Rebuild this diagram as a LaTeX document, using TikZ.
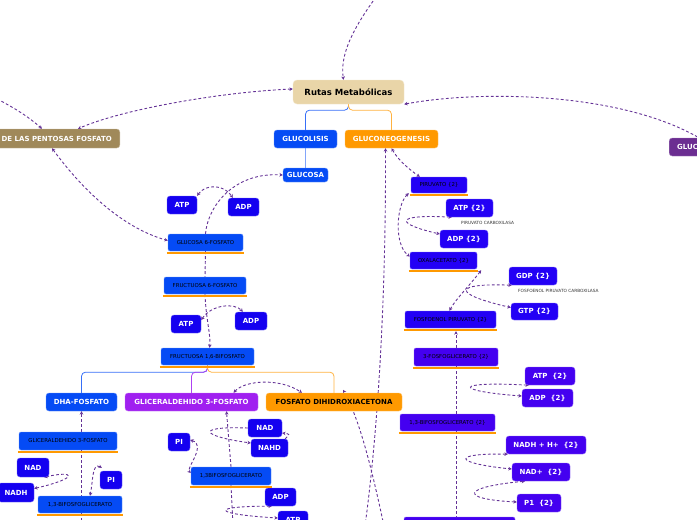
\documentclass[tikz,border=0pt]{standalone}
\usepackage{fontspec}
\setmainfont{DejaVu Sans}
\usetikzlibrary{arrows.meta,backgrounds,calc}

\definecolor{conncol}{RGB}{100,50,150}
\definecolor{rutastan}{RGB}{233,213,168}
\definecolor{glyblue}{RGB}{5,75,245}
\definecolor{neoorange}{RGB}{255,153,0}
\definecolor{pentbrown}{RGB}{160,137,90}
\definecolor{glucpurple}{RGB}{107,45,145}
\definecolor{cofblue}{RGB}{20,0,240}
\definecolor{neoblueA}{RGB}{35,0,245}
\definecolor{neoblueB}{RGB}{68,0,240}
\definecolor{gapurple}{RGB}{160,32,240}

\tikzset{
  topic/.style={rounded corners=3pt, fill=#1, draw=#1!60!white, line width=.4pt,
    text=white, font=\bfseries\fontsize{7}{8}\selectfont, inner sep=0pt, minimum height=18},
  inter/.style={rounded corners=2pt, fill=#1, draw=#1!60!white, line width=.4pt,
    text=black, font=\fontsize{5.4}{6}\selectfont, inner sep=0pt, minimum height=17},
  note/.style={text=black!80, font=\fontsize{4.3}{5}\selectfont, inner sep=0pt},
  conn/.style={draw=conncol, dash pattern=on 2.8pt off 2.2pt, line width=.9pt},
  uline/.style={draw=neoorange, line width=2pt},
  tree/.style={draw=#1, line width=.8pt, rounded corners=4pt}
}

\begin{document}
\begin{tikzpicture}[x=1pt,y=-1pt,>={Stealth[length=3.4pt,width=3.6pt]}]

  \useasboundingbox (0,0) rectangle (697,520);

  % Main topics
  \node[topic=rutastan, text=black, font=\bfseries\fontsize{8.5}{10}\selectfont,
    minimum width=111, minimum height=24, rounded corners=4pt] (rutas) at (348.5,92) {Rutas Metabólicas};
  \node[topic=glyblue, minimum width=63] (glucolisis) at (305.5,139) {GLUCOLISIS};
  \node[topic=neoorange, minimum width=93] (gneo) at (391.5,139) {GLUCONEOGENESIS};
  \node[topic=pentbrown, anchor=east, inner xsep=8pt, minimum height=19] (pentosas) at (120,138.5) {DE LAS PENTOSAS FOSFATO};
  \node[topic=glucpurple, anchor=west, inner xsep=8pt] (gluc) at (669,147) {GLUC};

  % Glucolisis
  \node[topic=glyblue, minimum width=45, minimum height=14] (glucosa) at (305.5,175) {GLUCOSA};
  \node[topic=cofblue, minimum width=30] (atpA) at (182,205) {ATP};
  \node[topic=cofblue, minimum width=31] (adpA) at (243.5,207) {ADP};
  \node[inter=glyblue, minimum width=75] (g6p) at (205.5,242.5) {GLUCOSA 6-FOSFATO};
  \node[inter=glyblue, minimum width=82] (f6p) at (205,285.5) {FRUCTUOSA 6-FOSFATO};
  \node[topic=cofblue, minimum width=30] (atpB) at (186,324) {ATP};
  \node[topic=cofblue, minimum width=32] (adpB) at (251,321) {ADP};
  \node[inter=glyblue, minimum width=93] (f16bp) at (207.5,356.5) {FRUCTUOSA 1,6-BIFOSFATO};

  \node[topic=glyblue, minimum width=71] (dha) at (81.5,402) {DHA-FOSFATO};
  \node[topic=gapurple, minimum width=133] (gli3p) at (191.5,402) {GLICERALDEHIDO 3-FOSFATO};
  \node[topic=neoorange, text=black, minimum width=136] (fdha) at (334,402) {FOSFATO DIHIDROXIACETONA};

  % Left branch
  \node[inter=glyblue, minimum width=98, minimum height=18] (gliL) at (68,441) {GLICERALDEHIDO 3-FOSFATO};
  \node[topic=cofblue, minimum width=32, minimum height=19] (nadL) at (33,467.5) {NAD};
  \node[topic=cofblue, minimum width=36, minimum height=19] (nadhL) at (16,492.5) {NADH};
  \node[topic=cofblue, minimum width=22] (piL) at (111,480) {PI};
  \node[inter=glyblue, minimum width=84] (bpgL) at (80,504.5) {1,3-BIFOSFOGLICERATO};

  % Middle branch
  \node[topic=cofblue, minimum width=22] (piM) at (179,442) {PI};
  \node[topic=cofblue, minimum width=34] (nadM) at (265,428) {NAD};
  \node[topic=cofblue, minimum width=37] (nahdM) at (269.5,448) {NAHD};
  \node[inter=glyblue, minimum width=80, minimum height=18] (bpgM) at (231,476) {1,3BIFOSFOGLICERATO};
  \node[topic=cofblue, minimum width=31] (adpM) at (280.5,497) {ADP};
  \node[topic=cofblue, minimum width=30] (atpM) at (293,520) {ATP};

  % Gluconeogenesis
  \node[inter=neoblueA, minimum width=56, minimum height=16] (pir) at (439,185) {PIRUVATO \{2\}};
  \node[topic=neoblueA, minimum width=47] (atpN) at (469.5,208) {ATP \{2\}};
  \node[note, anchor=west] (lblpc) at (461,223) {PIRUVATO CARBOXILASA};
  \node[topic=neoblueA, minimum width=48] (adpN) at (464,239) {ADP \{2\}};
  \node[inter=neoblueA, minimum width=67] (oxa) at (443.5,260.5) {OXALACETATO \{2\}};
  \node[topic=neoblueA, minimum width=48] (gdp) at (533,276) {GDP \{2\}};
  \node[note, anchor=west] (lblfpc) at (518,291) {FOSFOENOL PIRUVATO CARBOXILASA};
  \node[topic=neoblueA, minimum width=47, minimum height=17] (gtp) at (534.5,311.5) {GTP \{2\}};
  \node[inter=neoblueA, minimum width=91] (pep) at (450.5,319.5) {FOSFOENOL PIRUVATO \{2\}};
  \node[inter=neoblueB, minimum width=84, minimum height=18] (pg3) at (456,357) {3-FOSFOGLICERATO \{2\}};
  \node[topic=neoblueB, minimum width=50] (atpP) at (550,376) {ATP\ \ \{2\}};
  \node[topic=neoblueB, minimum width=51] (adpP) at (547.5,398) {ADP\ \ \{2\}};
  \node[inter=neoblueB, minimum width=95] (bpgR) at (447.5,422.5) {1,3-BIFOSFOGLICERATO \{2\}};
  \node[topic=neoblueB, minimum width=80] (nadhR) at (546,445) {NADH + H+\ \ \{2\}};
  \node[topic=neoblueB, minimum width=58] (nadR) at (541,472) {NAD+\ \ \{2\}};
  \node[topic=neoblueB, minimum width=44] (p1) at (539,503) {P1\ \ \{2\}};
  \node[inter=neoblueB, minimum width=111, minimum height=20] (last) at (459.5,527) {};

  % Underlines
  \foreach \n in {g6p,f6p,f16bp,gliL,bpgL,bpgM,pir,oxa,pep,pg3,bpgR}
    \draw[uline] ([xshift=-1pt,yshift=-1.5pt]\n.south west) -- ([xshift=1pt,yshift=-1.5pt]\n.south east);

  % Off-page ends
  \coordinate (topin) at (376,-3);
  \coordinate (leftin) at (-3,99);
  \coordinate (botA) at (365,526);
  \coordinate (botB) at (384,526);
  \coordinate (botL) at (80,526);
  \coordinate (botM) at (233,526);

  \begin{pgfonlayer}{background}
    % Tree lines
    \draw[tree=glyblue!80!white] (rutas.south) -- ++(0,6) -| (glucolisis.north);
    \draw[tree=neoorange!75!white] (rutas.south) -- ++(0,6) -| (gneo.north);
    \draw[tree=glyblue!50!white] (glucolisis.south) -- (glucosa.north);
    \draw[tree=glyblue!80!white] (f16bp.south) -- ++(0,7) -| (dha.north);
    \draw[tree=gapurple!85!white] (f16bp.south) -- ++(0,7) -| (gli3p.north);
    \draw[tree=neoorange!75!white] (f16bp.south) -- ++(0,7) -| (fdha.north);

    % Connectors, top
    \draw[conn,->] (topin) .. controls (352,30) and (340,55) .. ([xshift=-5pt]rutas.north);
    \draw[conn,<->] ([yshift=3pt]rutas.west) .. controls (220,92) and (120,110) .. ([xshift=-42pt]pentosas.north east);
    \draw[conn,->] (leftin) .. controls (15,108) and (30,118) .. ([xshift=-78pt]pentosas.north east);
    \draw[conn,<->] ([xshift=-68pt]pentosas.south east) .. controls (90,200) and (130,230) .. ([yshift=2pt]g6p.west);
    \draw[conn,<-] (rutas.south east) .. controls (480,90) and (620,92) .. ([xshift=30pt]gluc.north west);

    % Connectors, glucolisis
    \draw[conn,->] (g6p.north) .. controls (208,205) and (235,172) .. (glucosa.west);
    \draw[conn,<->] (atpA.north east) .. controls (205,184) and (224,184) .. ([xshift=5pt]adpA.north west);
    \draw[conn] (g6p.south) -- (f6p.north);
    \draw[conn,->] (f6p.south) .. controls (206,320) and (211,335) .. ([xshift=2pt]f16bp.north);
    \draw[conn,<->] ([yshift=4pt]atpB.east) .. controls (212,304) and (235,303) .. ([xshift=8pt]adpB.north west);

    % Connectors, left branch
    \draw[conn,->] (dha.south |- gliL.north) -- (dha.south);
    \draw[conn] (dha.south |- gliL.south) -- (dha.south |- bpgL.north);
    \draw[conn] (dha.south |- bpgL.south) -- (dha.south |- botL);
    \draw[conn,<->] ([xshift=-5pt]nadL.south east) .. controls (75,470) and (80,478) .. ([yshift=4pt]nadhL.east);
    \draw[conn,<->] ([xshift=2pt,yshift=3pt]piL.north west) .. controls (92,462) and (93,482) .. ([xshift=10pt]bpgL.north);

    % Connectors, middle branch
    \draw[conn,<->] ([xshift=42pt]gli3p.north) .. controls (245,380) and (280,378) .. ([xshift=-32pt]fdha.north);
    \draw[conn,->] (bpgM.north) -- ([xshift=35pt]gli3p.south);
    \draw[conn,->] (nadM.west) .. controls (195,426) and (200,436) .. ([yshift=5pt]nahdM.west);
    \draw[conn,->] ([xshift=-3pt]nahdM.north east) .. controls (290,434) .. ([yshift=-5pt]nadM.east);
    \draw[conn,<->] ([yshift=2pt]piM.east) .. controls (207,445) and (186,468) .. ([yshift=3pt]bpgM.west);
    \draw[conn] (bpgM.south) -- (botM);
    \draw[conn,<->] ([xshift=7pt]adpM.south west) .. controls (210,506) and (210,514) .. ([yshift=2pt]atpM.west);

    % Connectors, gluconeogenesis
    \draw[conn,<->] (gneo.south) .. controls (398,160) and (410,170) .. ([xshift=9pt]pir.north west);
    \draw[conn,<-] ([xshift=-6pt]gneo.south) .. controls (386,300) and (378,430) .. (botA);
    \draw[conn,->] (botB) .. controls (372,470) and (360,420) .. ([xshift=9pt,yshift=3pt]fdha.north);
    \draw[conn,<->] ([xshift=-2pt]pir.south west) .. controls (396,205) and (394,245) .. ([yshift=4pt]oxa.west);
    \draw[conn,<->] ([xshift=6pt]atpN.south west) .. controls (392,214) and (396,224) .. ([yshift=5pt]adpN.west);
    \draw[conn,<->] ([xshift=4pt,yshift=-1pt]oxa.south east) .. controls (470,285) and (455,300) .. ([xshift=-1pt]pep.north);
    \draw[conn,<->] ([xshift=3pt]gdp.south west) .. controls (452,283) and (452,294) .. ([yshift=4pt]gtp.west);
    \draw[conn,->] (pg3.north) -- ($(pg3.north |- pep.south)+(0,3)$);
    \draw[conn] (pg3.south) -- (pg3.south |- bpgR.north);
    \draw[conn] (pg3.south |- bpgR.south) -- (pg3.south |- last.north);
    \draw[conn,<->] ([xshift=4pt]atpP.south west) .. controls (453,381) and (453,391) .. ([yshift=2pt]adpP.west);
    \draw[conn,<->] ([xshift=2pt]nadhR.south west) .. controls (452,453) and (452,463) .. ([yshift=3pt]nadR.west);
    \draw[conn,<->] ([xshift=-16pt]nadR.south) .. controls (462,487) and (458,499) .. ([yshift=1pt]p1.west);
  \end{pgfonlayer}

\end{tikzpicture}
\end{document}
